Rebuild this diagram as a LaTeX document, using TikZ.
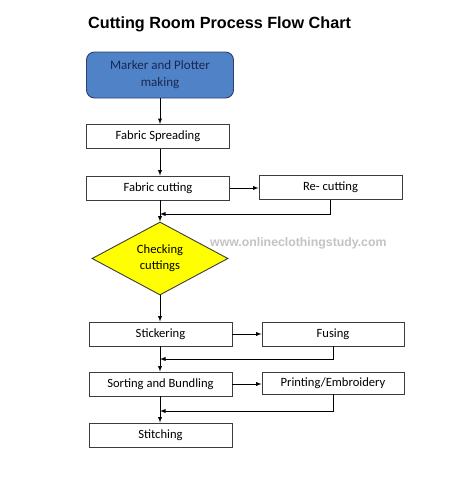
\documentclass[tikz,border=0pt]{standalone}
\usepackage{fontspec}
\setmainfont{Carlito}
\newfontfamily\titlefont{Liberation Sans}
\usepackage{tikz}
\usetikzlibrary{calc}
\usetikzlibrary{arrows}
\usetikzlibrary{positioning}
\usetikzlibrary{shapes.geometric}
\usepackage{color}
\definecolor{markerblue}{RGB}{80, 130, 200}
\definecolor{markerline}{RGB}{45, 65, 105}
\definecolor{markertext}{RGB}{25, 40, 80}
\definecolor{checkyellow}{RGB}{255, 255, 0}
\definecolor{boxline}{RGB}{60, 60, 60}
\definecolor{watermark}{RGB}{195, 195, 195}

\begin{document}
\begin{tikzpicture}[x=1pt, y=-1pt, >=latex,
    stepbox/.style={draw=boxline, line width=0.9pt, fill=white, minimum width=143pt, minimum height=24pt, inner sep=0pt, font=\fontsize{12.6}{14}\selectfont},
    markbox/.style={stepbox, draw=markerline, fill=markerblue, rounded corners=8pt, minimum width=147pt, minimum height=46pt, align=center, text=markertext, font=\fontsize{13}{17}\selectfont},
    checkbox/.style={draw=boxline, line width=0.9pt, fill=checkyellow, diamond, aspect=1.86, minimum width=136pt, minimum height=73pt, inner sep=0pt, align=center, font=\fontsize{12.6}{16}\selectfont},
    arr/.style={->, line width=0.9pt, color=black}]
            \useasboundingbox[fill=white] (0,0) rectangle (474,479);
            \node[anchor=west, inner sep=0pt, font=\titlefont\bfseries\fontsize{16.2}{18}\selectfont] (title) at (88,24) {Cutting Room Process Flow Chart};
            \node[markbox]                     (mark)   at (160,75)    {Marker and Plotter\\making};
            \node[stepbox]                     (spread) at (158,136.5) {Fabric Spreading};
            \node[stepbox]                     (cut)    at (158,188)   {Fabric cutting};
            \node[stepbox]                     (recut)  at (330.5,187.5) {Re- cutting};
            \node[checkbox]                    (check)  at (160,258.5) {Checking\\cuttings};
            \node[anchor=west, inner sep=0pt, text=watermark, font=\titlefont\bfseries\fontsize{12.3}{14}\selectfont] (web) at (210,243) {www.onlineclothingstudy.com};
            \node[stepbox]                     (stick)  at (160.5,334) {Stickering};
            \node[stepbox, minimum width=142pt] (fuse)  at (333,334)   {Fusing};
            \node[stepbox]                     (sort)   at (160.5,384) {Sorting and Bundling};
            \node[stepbox, minimum width=142pt, minimum height=22pt] (print) at (333,383) {Printing/Embroidery};
            \node[stepbox]                     (stitch) at (160.5,435) {Stitching};
            % joints where the side loops come back
            \coordinate (j1) at (160,214);
            \coordinate (j2) at (160,359);
            \coordinate (j3) at (160,411);
            \draw[arr] (mark.south)   -- (mark.south |- spread.north);
            \draw[arr] (mark.south |- spread.south) -- (mark.south |- cut.north);
            \draw[arr] (cut.east)     -- (recut.west |- cut.east);
            \draw[arr] (mark.south |- cut.south)    -- (check.north);
            \draw[arr] (recut.south)  |- (j1);
            \draw[arr] (check.south)  -- (stick.north -| check.south);
            \draw[arr] (stick.east)   -- (fuse.west);
            \draw[arr] (fuse.south)   |- (j2);
            \draw[arr] (stick.south -| check.south) -- (sort.north -| check.south);
            \draw[arr] (sort.east)    -- (print.west |- sort.east);
            \draw[arr] (print.south)  |- (j3);
            \draw[arr] (sort.south -| check.south)  -- (stitch.north -| check.south);
        \end{tikzpicture}
\end{document}
